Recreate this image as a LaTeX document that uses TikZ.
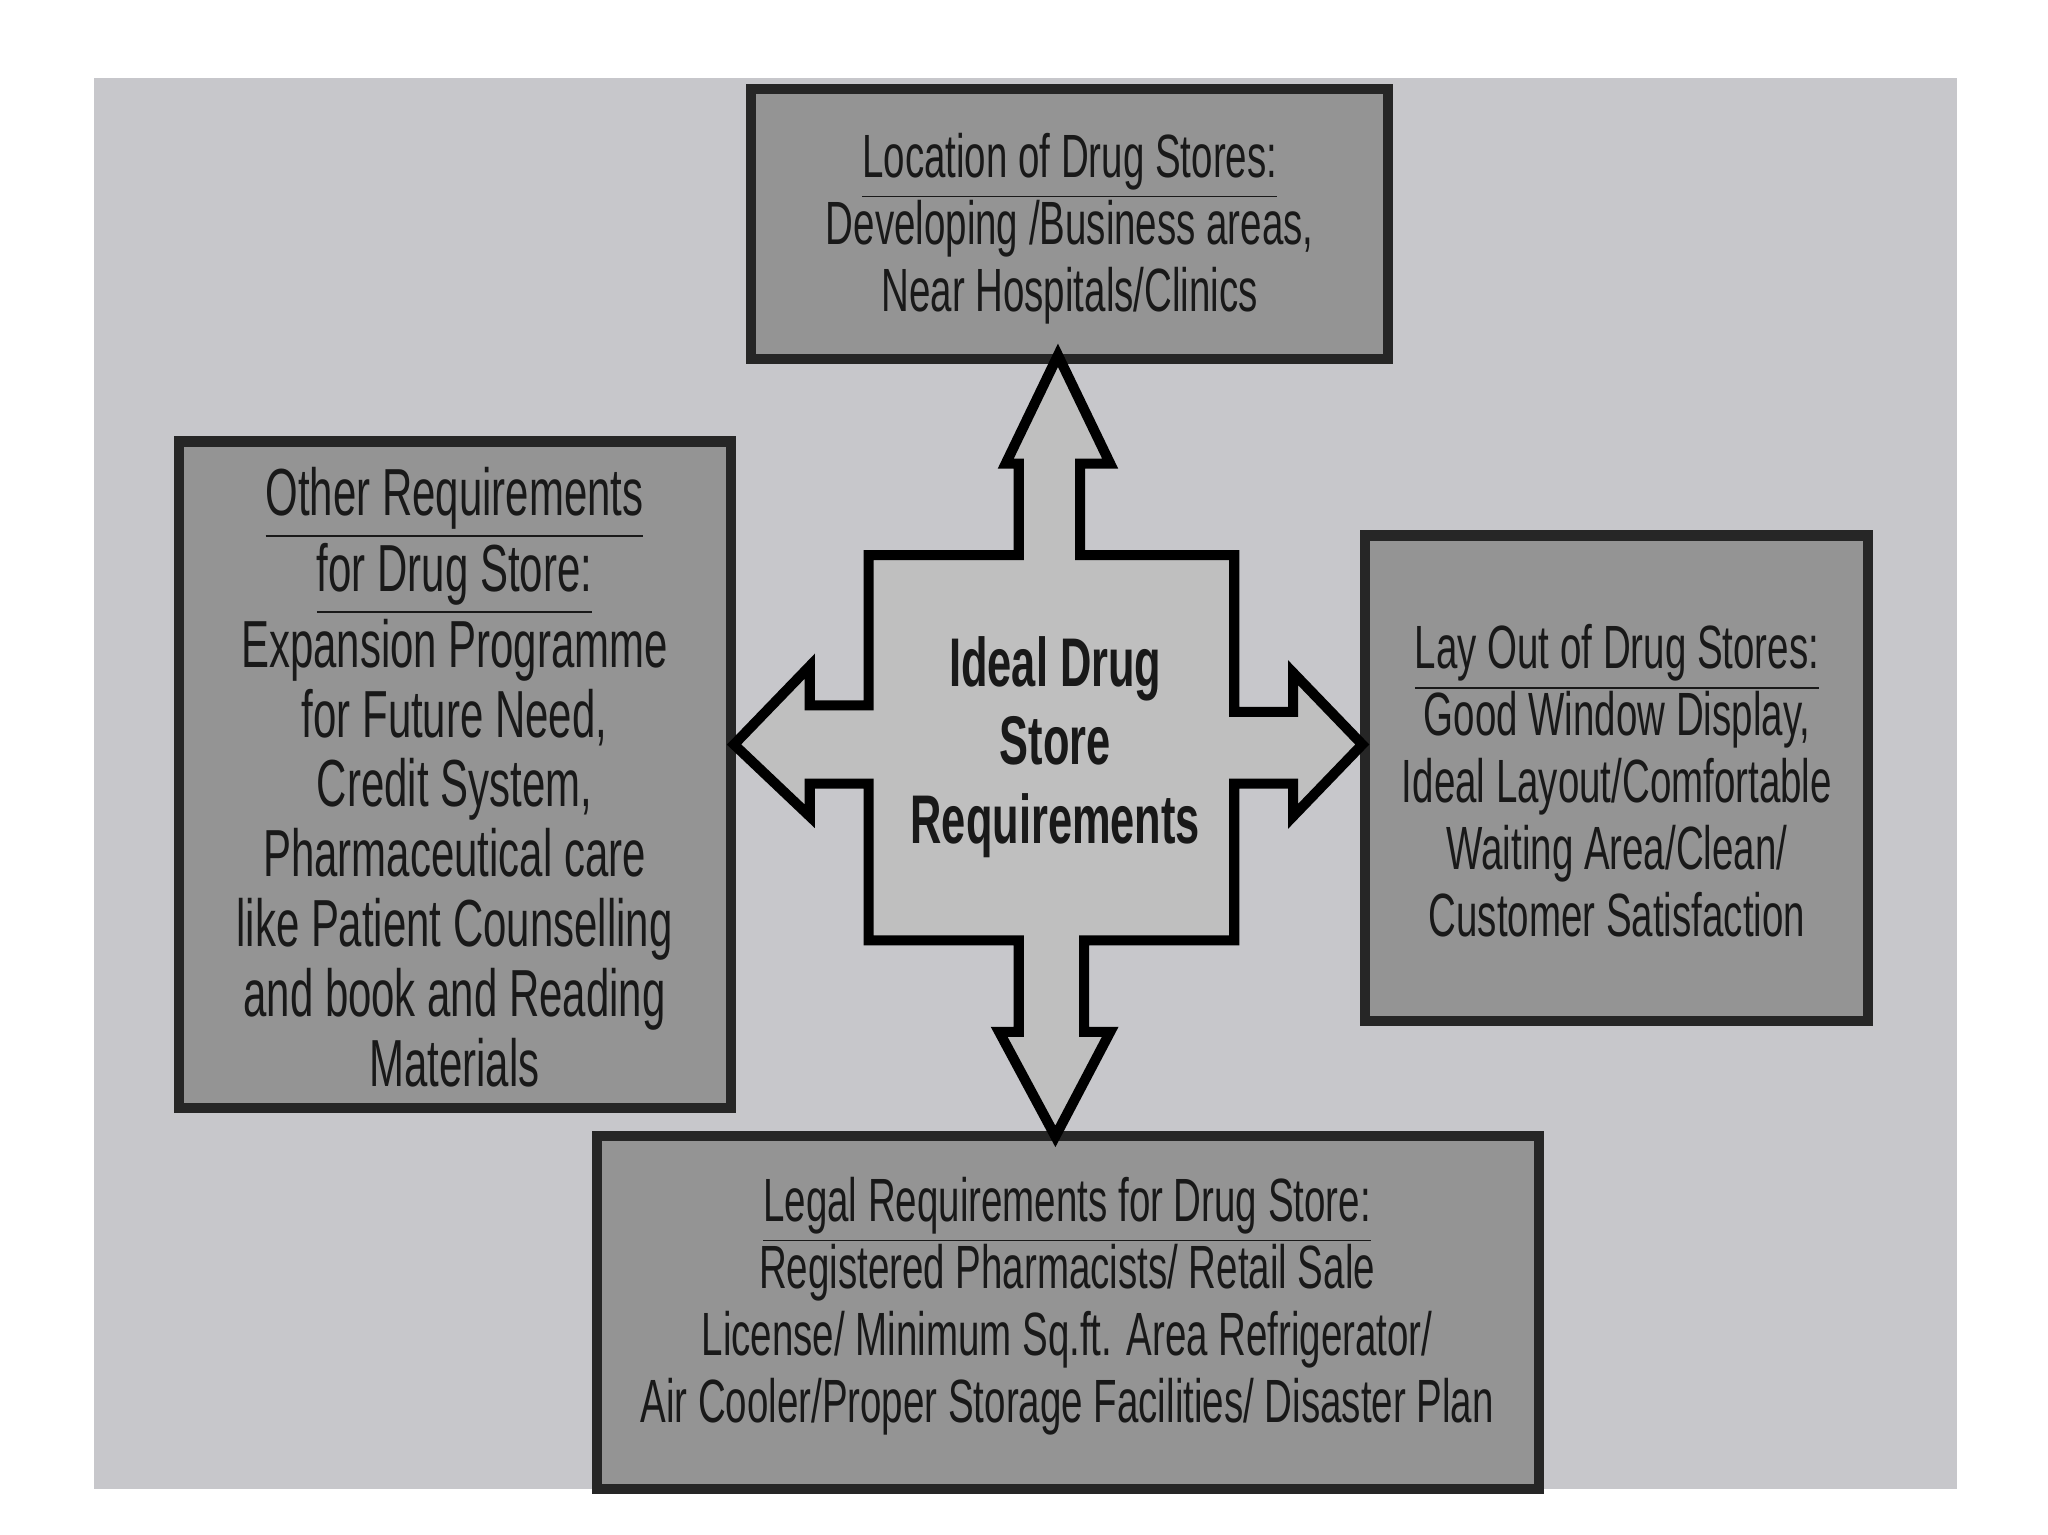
\documentclass[tikz,border=0pt]{standalone}
\usepackage{fontspec}
\setmainfont[FakeStretch=0.63]{Liberation Sans}
\begin{document}
\begin{tikzpicture}[x=0.01cm,y=-0.01cm,
  box/.style={draw=black!85,line width=2.2pt,fill=black!42},
  lbl/.style={align=center,font=\fontsize{14.5}{15.2}\selectfont,text=black!90},
  small/.style={font=\fontsize{13.3}{14.6}\selectfont}]
\useasboundingbox (0,0) rectangle (1568,1175);
\fill[white] (0,0) rectangle (1568,1175);
\fill[blue!8!black!22] (72,60) rectangle (1498,1140);
% boxes
\draw[box] (575,68) rectangle (1063,275);
\node[lbl,small] (top) at (819,175) {\underline{Location of Drug Stores:}\\Developing /Business areas,\\Near Hospitals/Clinics};
\draw[box] (137,338) rectangle (560,848);
\node[lbl] (left) at (348,595) {\underline{Other Requirements}\\\underline{for Drug Store:}\\Expansion Programme\\for Future Need,\\Credit System,\\Pharmaceutical care\\like Patient Counselling\\and book and Reading\\Materials};
\draw[box] (1045,410) rectangle (1430,782);
\node[lbl,small] (right) at (1238,598) {\underline{Lay Out of Drug Stores:}\\Good Window Display,\\Ideal Layout/Comfortable\\Waiting Area/Clean/\\Customer Satisfaction};
\draw[box] (457,870) rectangle (1178,1140);
\node[lbl,small] (bottom) at (817,1000) {\underline{Legal Requirements for Drug Store:}\\Registered Pharmacists/ Retail Sale\\License/ Minimum Sq.ft. Area Refrigerator/\\Air Cooler/Proper Storage Facilities/ Disaster Plan};
% centre cross
\draw[line width=2.2pt,fill=black!25,line join=miter]
 (665,425) -- (780,425) -- (780,355) -- (770,355) -- (810,272) -- (850,355) -- (827,355) -- (827,425)
 -- (945,425) -- (945,545) -- (990,545) -- (990,515) -- (1043,570) -- (990,625) -- (990,600) -- (945,600)
 -- (945,720) -- (830,720) -- (830,790) -- (850,790) -- (808,870) -- (765,790) -- (780,790) -- (780,720)
 -- (665,720) -- (665,600) -- (620,600) -- (620,625) -- (562,570) -- (620,510) -- (620,540) -- (665,540) -- cycle;
\node[lbl,font=\bfseries\fontsize{15}{17}\selectfont] (center) at (808,572) {Ideal Drug\\Store\\Requirements};
\end{tikzpicture}
\end{document}
